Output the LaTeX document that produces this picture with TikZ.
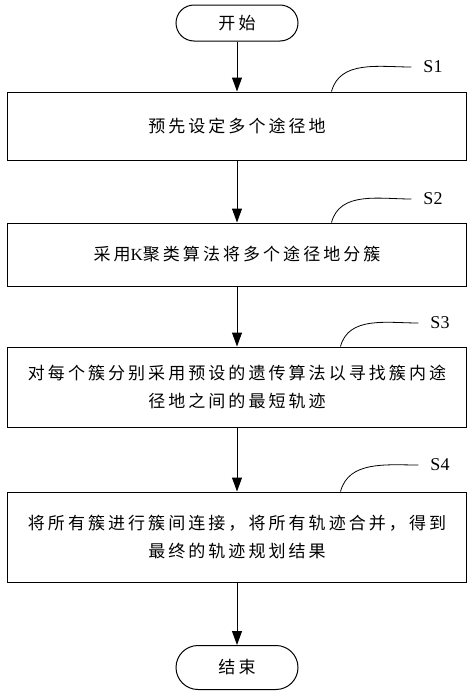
\documentclass[tikz,border=0pt]{standalone}
\usepackage{fontspec}
\setmainfont{Liberation Serif}
\newfontfamily\cjk[LetterSpace=18]{Noto Sans CJK SC}
\usetikzlibrary{arrows.meta,positioning}
\newcommand\lat[1]{{\rmfamily #1}}
\tikzset{
    stepbox/.style={draw,line width=1pt,minimum width=459pt,inner sep=0pt,align=center,
        font=\fontsize{17}{28}\selectfont\cjk},
    termbox/.style={draw,line width=1pt,minimum width=122pt,inner sep=0pt,
        font=\fontsize{17}{20}\selectfont\cjk},
    flow/.style={line width=1pt,-{Triangle[length=14pt,width=10pt]}},
    tag/.style={font=\fontsize{18}{20}\selectfont,inner sep=0pt},
    hook/.style={line width=0.8pt}
}
\begin{document}
\begin{tikzpicture}[x=1pt,y=-1pt]
\useasboundingbox (0,0) rectangle (474,699);
\node(start) [termbox,minimum height=36pt,rounded corners=18pt] at (237,23) {开始};
\node(s1box) [stepbox,minimum height=68pt] at (237,126) {预先设定多个途径地};
\node(s2box) [stepbox,minimum height=63pt] at (237,254.5) {采用\lat{K}聚类算法将多个途径地分簇};
\node(s3box) [stepbox,minimum height=80pt] at (237,387)
    {对每个簇分别采用预设的遗传算法以寻找簇内途\\径地之间的最短轨迹};
\node(s4box) [stepbox,minimum height=90pt] at (237,537)
    {将所有簇进行簇间连接，将所有轨迹合并，得到\\最终的轨迹规划结果};
\node(stop) [termbox,minimum height=44pt,rounded corners=22pt] at (237,667.5) {结束};
% step tags
\node(S1) [tag] at (433,67)  {S1};
\node(S2) [tag] at (433,199) {S2};
\node(S3) [tag] at (440,323) {S3};
\node(S4) [tag] at (440,465) {S4};
\draw[flow] (start) -- (s1box);
\draw[flow] (s1box) -- (s2box);
\draw[flow] (s2box) -- (s3box);
\draw[flow] (s3box) -- (s4box);
\draw[flow] (s4box) -- (stop);
\draw[hook] ([xshift=324.5pt]s1box.north west) to[out=75,in=180] ([xshift=-12pt]S1.west);
\draw[hook] ([xshift=324.5pt]s2box.north west) to[out=75,in=180] ([xshift=-12pt]S2.west);
\draw[hook] ([xshift=333.5pt]s3box.north west) to[out=75,in=180] ([xshift=-12pt]S3.west);
\draw[hook] ([xshift=333.5pt]s4box.north west) to[out=75,in=180] ([xshift=-12pt]S4.west);
\end{tikzpicture}
\end{document}
